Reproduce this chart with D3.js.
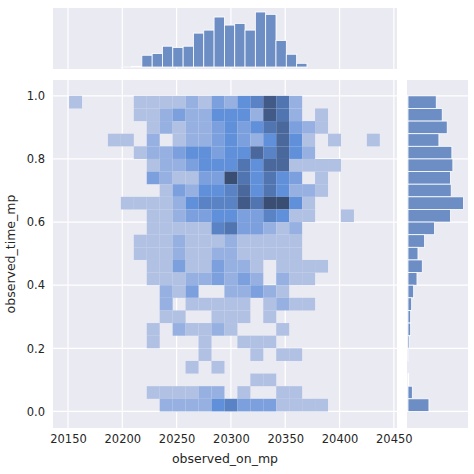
<!DOCTYPE html>
<html><head><meta charset="utf-8">
<script src="https://cdn.jsdelivr.net/npm/d3@7"></script>
<style>body{margin:0;background:#fff}text{font-family:"DejaVu Sans",sans-serif;fill:#262626}</style>
</head><body><svg width="474" height="474"></svg>
<script>
// joint histogram: 24 x-bins from 20151, width ~11.92; 25 y-bins of 0.04 (row 0 = top)
var xBinStart = 20151, xBinW = 11.92, yBinW = 0.04;
var grid = [
  // c0..c23
  [1,0,0,0,0,1,1,1,1,2,1,3,2,4,5,8,6,2,0,0,0,0,0,0],
  [0,0,0,0,0,1,1,2,3,2,2,4,4,4,2,8,6,2,0,1,0,0,0,0],
  [0,0,0,0,0,0,1,2,1,2,2,3,4,3,4,6,7,3,2,1,0,0,0,0],
  [0,0,0,1,1,0,2,0,1,2,2,3,4,3,2,4,7,4,1,0,1,0,0,1],
  [0,0,0,0,0,1,2,2,3,4,4,3,4,4,7,5,7,4,2,0,0,0,0,0],
  [0,0,0,0,0,0,1,2,2,3,4,4,4,6,4,7,7,1,1,1,1,0,0,0],
  [0,0,0,0,0,0,3,2,1,1,3,3,9,6,4,6,4,3,0,1,0,0,0,0],
  [0,0,0,0,0,0,0,1,3,2,4,4,5,7,4,6,4,2,2,1,0,0,0,0],
  [0,0,0,0,1,1,1,1,2,4,5,5,5,8,6,9,9,4,1,0,0,0,0,0],
  [0,0,0,0,0,0,1,1,2,3,3,4,4,3,3,5,4,1,1,0,0,1,0,0],
  [0,0,0,0,0,0,1,1,1,1,1,5,6,3,3,2,1,2,0,0,0,0,0,0],
  [0,0,0,0,0,1,1,1,2,1,1,1,2,1,1,1,1,1,0,0,0,0,0,0],
  [0,0,0,0,0,1,1,1,2,1,1,2,2,1,1,1,1,1,0,0,0,0,0,0],
  [0,0,0,0,0,0,1,1,3,1,1,3,2,2,1,0,1,1,1,1,0,0,0,0],
  [0,0,0,0,0,0,1,1,1,2,2,3,2,3,2,0,2,1,1,0,0,0,0,0],
  [0,0,0,0,0,0,0,2,1,3,0,0,2,2,3,2,1,0,0,0,0,0,0,0],
  [0,0,0,0,0,0,0,2,0,1,1,1,1,1,0,1,2,1,1,0,0,0,0,0],
  [0,0,0,0,0,0,0,1,1,0,0,1,1,1,0,1,0,0,0,0,0,0,0,0],
  [0,0,0,0,0,0,1,0,2,1,1,2,1,0,0,0,1,0,0,0,0,0,0,0],
  [0,0,0,0,0,0,1,0,0,0,1,0,0,1,1,1,0,0,0,0,0,0,0,0],
  [0,0,0,0,0,0,0,0,0,0,1,0,0,0,1,0,1,1,0,0,0,0,0,0],
  [0,0,0,0,0,0,0,0,0,1,0,1,0,0,0,0,0,0,0,0,0,0,0,0],
  [0,0,0,0,0,0,0,0,0,0,0,0,0,0,1,1,0,0,0,0,0,0,0,0],
  [0,0,0,0,0,0,1,1,1,1,2,2,0,1,0,0,1,1,0,0,0,0,0,0],
  [0,0,0,0,0,0,0,2,2,2,2,4,5,3,3,3,1,1,1,1,0,0,0,0]
];
// top marginal: bins of ~9.5 starting near 20199
var topStart = 20199, topW = 9.5;
var topCounts = [1,2,35,40,62,58,62,101,110,149,125,130,110,164,157,79,38,11];
// right marginal: same 25 y-bins, top to bottom
var rightCounts = [85,103,118,93,132,135,128,130,167,128,80,50,30,43,27,17,11,8,8,4,1,0,2,13,63];

var xTicks = [20150,20200,20250,20300,20350,20400,20450];
var yTicks = [0.0,0.2,0.4,0.6,0.8,1.0];

var svg = d3.select("svg");
var bg = "#eaeaf2";
var L = 53, R = 397, T = 80, B = 428;
var x = d3.scaleLinear().domain([20136.2, 20452.9]).range([L, R]);
var y = d3.scaleLinear().domain([-0.0525, 1.0502]).range([B, T]);

function panel(x0, y0, x1, y1) {
  svg.append("rect").attr("x", x0).attr("y", y0).attr("width", x1 - x0).attr("height", y1 - y0).attr("fill", bg);
}
panel(L, T, R, B);
panel(L, 8, R, 69);
panel(407, T, 468, B);

// grid lines
xTicks.forEach(function (t) {
  [[T, B], [8, 69]].forEach(function (r) {
    svg.append("line").attr("x1", x(t)).attr("x2", x(t)).attr("y1", r[0]).attr("y2", r[1]).attr("stroke", "#fff").attr("stroke-width", 1.2);
  });
});
yTicks.forEach(function (t) {
  [[L, R], [407, 468]].forEach(function (r) {
    svg.append("line").attr("y1", y(t)).attr("y2", y(t)).attr("x1", r[0]).attr("x2", r[1]).attr("stroke", "#fff").attr("stroke-width", 1.2);
  });
});

var color = d3.scaleLinear().domain([1, 4, 9]).range(["#b1c1e4", "#6190da", "#3a4d72"]);
grid.forEach(function (row, j) {
  var yHi = 1 - j * yBinW;
  row.forEach(function (v, i) {
    if (!v) return;
    var xLo = xBinStart + i * xBinW;
    svg.append("rect").attr("x", x(xLo)).attr("y", y(yHi))
      .attr("width", x(xLo + xBinW) - x(xLo)).attr("height", y(yHi - yBinW) - y(yHi))
      .attr("fill", color(v));
  });
});

// top marginal
var hTop = d3.scaleLinear().domain([0, 164]).range([67, 12]);
svg.selectAll(".tb").data(topCounts).enter().append("rect")
  .attr("x", function (d, i) { return x(topStart + i * topW); })
  .attr("width", x(topStart + topW) - x(topStart))
  .attr("y", function (d) { return hTop(d); })
  .attr("height", function (d) { return hTop(0) - hTop(d); })
  .attr("fill", "#6d8ec4").attr("stroke", "#fff").attr("stroke-width", 0.8);

// right marginal
var wR = d3.scaleLinear().domain([0, 167]).range([408, 463.5]);
svg.selectAll(".rb").data(rightCounts).enter().append("rect")
  .attr("x", 408)
  .attr("y", function (d, j) { return y(1 - j * yBinW); })
  .attr("height", y(0) - y(yBinW))
  .attr("width", function (d) { return wR(d) - 408; })
  .attr("fill", "#6d8ec4").attr("stroke", "#fff").attr("stroke-width", 0.8);

// axes
var xa = svg.append("g").attr("transform", "translate(0," + B + ")")
  .call(d3.axisBottom(x).tickValues(xTicks).tickSize(0).tickPadding(7).tickFormat(d3.format("d")));
var ya = svg.append("g").attr("transform", "translate(" + L + ",0)")
  .call(d3.axisLeft(y).tickValues(yTicks).tickSize(0).tickPadding(8).tickFormat(d3.format(".1f")));
[xa, ya].forEach(function (g) {
  g.select(".domain").remove();
  g.selectAll("text").attr("font-size", 11.5).attr("fill", "#262626").style("font-family", "DejaVu Sans");
});

svg.append("text").attr("x", (L + R) / 2).attr("y", 463).attr("text-anchor", "middle").attr("font-size", 12.5).text("observed_on_mp");
svg.append("text").attr("transform", "translate(15," + (T + B) / 2 + ") rotate(-90)").attr("text-anchor", "middle").attr("font-size", 12.5).text("observed_time_mp");
</script></body></html>
